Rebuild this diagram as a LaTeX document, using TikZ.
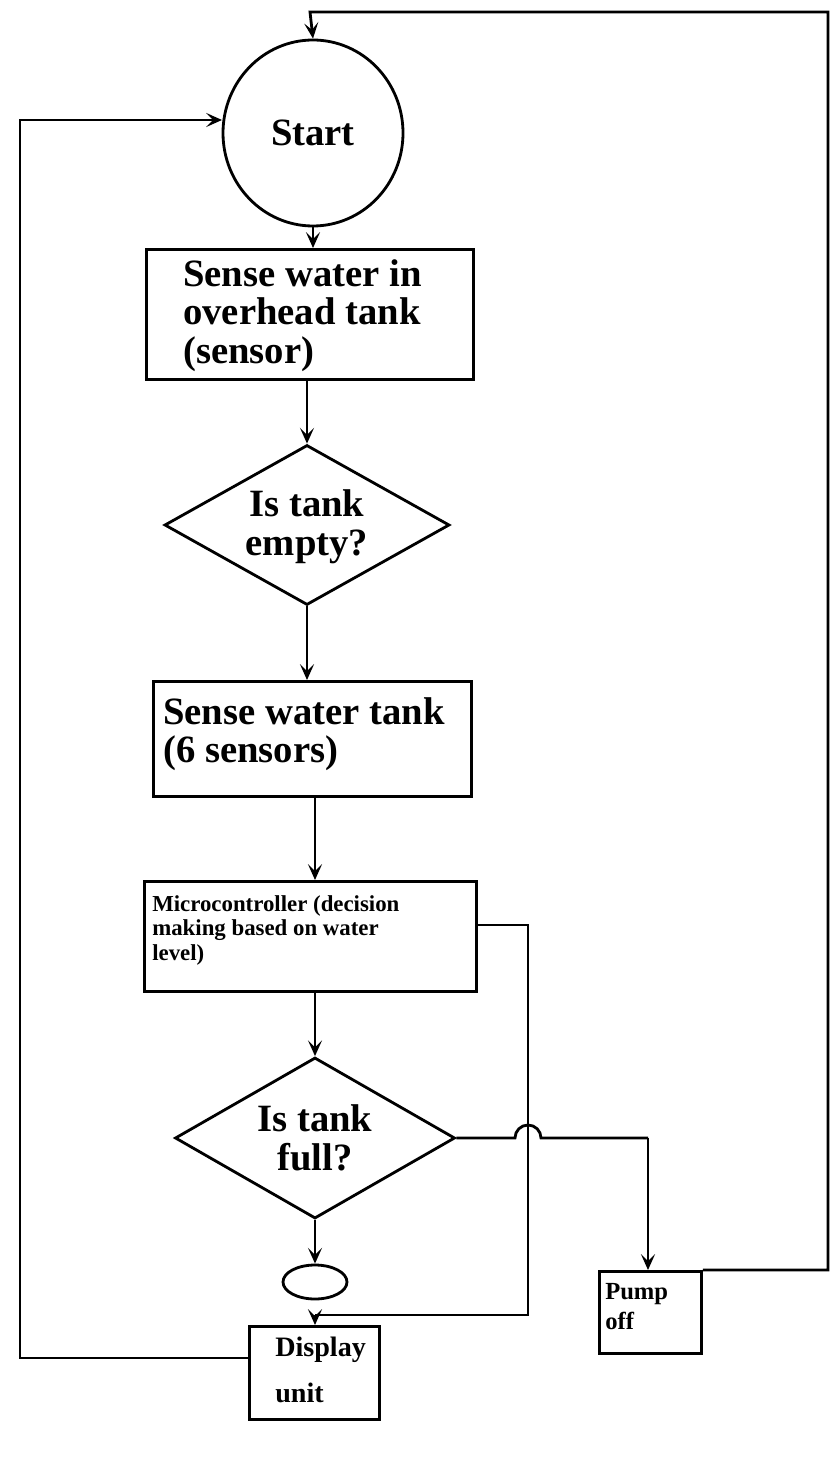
\documentclass[tikz,border=0pt]{standalone}
\usepackage{fontspec}
\setmainfont{Liberation Serif}
\usetikzlibrary{shapes.geometric,arrows.meta}
\begin{document}
\begin{tikzpicture}[x=0.02cm,y=-0.02cm,
  line width=1.6pt,
  arr/.style={-{Stealth[length=9pt,width=8pt,inset=4pt]}},
  box/.style={draw,rectangle,anchor=north west,inner sep=0pt},
  big/.style={font=\bfseries\fontsize{22}{22}\selectfont,align=left},
  small/.style={font=\bfseries\fontsize{13}{14}\selectfont,align=left}]
\useasboundingbox (0,0) rectangle (838,1476);
% shapes
\node[draw,ellipse,minimum width=180*0.02cm,minimum height=186*0.02cm] (start) at (313,133) {};
\node[big] at (313,133) {Start};
\node[box,minimum width=327*0.02cm,minimum height=130*0.02cm] (b1) at (145,248) {};
\node[big,anchor=north west] at (176,252) {Sense water in\\overhead tank\\(sensor)};
\node[draw,diamond,aspect=1.78,minimum width=285*0.02cm,minimum height=160*0.02cm,inner sep=0pt] (d1) at (307,525) {};
\node[big,align=center] at (307,527) {Is tank\\empty?};
\node[box,minimum width=318*0.02cm,minimum height=115*0.02cm] (b2) at (152,680) {};
\node[big,anchor=north west] at (156,690) {Sense water tank\\(6 sensors)};
\node[box,minimum width=332*0.02cm,minimum height=110*0.02cm] (b3) at (143,880) {};
\node[small,anchor=north west] at (145,888) {Microcontroller (decision\\making based on water\\level)};
\node[draw,diamond,aspect=1.74,minimum width=280*0.02cm,minimum height=161*0.02cm,inner sep=0pt] (d2) at (315,1138) {};
\node[big,align=center] at (315,1138) {Is tank\\full?};
\node[draw,ellipse,minimum width=64*0.02cm,minimum height=34*0.02cm,inner sep=0pt] (e) at (315,1282) {};
\node[box,minimum width=102*0.02cm,minimum height=82*0.02cm] (p) at (598,1270) {};
\node[anchor=north west,align=left,font=\bfseries\fontsize{14}{17}\selectfont] at (598,1276) {Pump\\off};
\node[box,minimum width=130*0.02cm,minimum height=93*0.02cm] (du) at (248,1325) {};
\node[anchor=north west,align=left,font=\bfseries\fontsize{16}{26}\selectfont] at (268,1330) {Display\\unit};
% coordinates
\coordinate (t1) at (310,12);
\coordinate (t2) at (828,12);
\coordinate (t3) at (828,1270);
\coordinate (l1) at (20,1358);
\coordinate (l2) at (20,120);
\coordinate (m1) at (528,925);
\coordinate (m2) at (528,1315);
\coordinate (m3) at (315,1315);
\coordinate (h1) at (515,1138);
\coordinate (h2) at (648,1138);
% connectors
\draw[arr] (p.east |- t3) -- (t3) -- (t2) -- (t1) -- (start.north);
\draw[arr] (du.west |- l1) -- (l1) -- (l2) -- (222,120);
\draw[arr] (start.south) -- (b1.north -| start.south);
\draw[arr] (b1.south -| d1.north) -- (d1.north);
\draw[arr] (d1.south) -- (b2.north -| d1.south);
\draw[arr] (b2.south -| d2.north) -- (b3.north -| d2.north);
\draw[arr] (b3.south -| d2.north) -- (d2.north);
\draw (b3.east |- m1) -- (m1) -- (m2) -- (m3);
\draw[arr] (m3) -- (du.north -| m3);
\draw (d2.east) -- (h1) arc[start angle=180,end angle=360,radius=13] -- (h2);
\draw[arr] (h2) -- (p.north -| h2);
\draw[arr] (d2.south) -- (e.north);
\end{tikzpicture}
\end{document}
